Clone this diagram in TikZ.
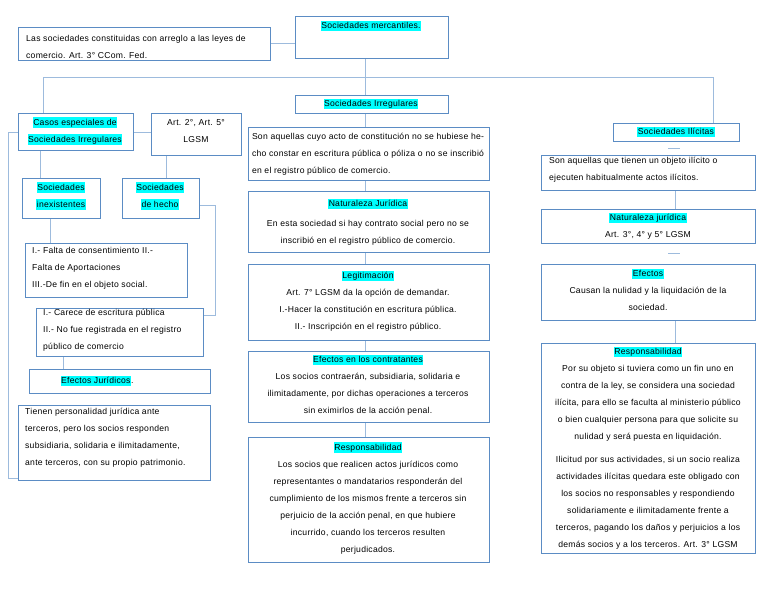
\documentclass[tikz,border=0pt]{standalone}
\usepackage{fontspec}
\setmainfont{Liberation Sans}[LetterSpace=3]
\usetikzlibrary{shadows}
\definecolor{bd}{HTML}{5B8CC4}
\definecolor{ln}{HTML}{9DBBDD}
\definecolor{hl}{HTML}{00FFFF}
\newcommand{\hil}[1]{{\setlength{\fboxsep}{0.6pt}\colorbox{hl}{\vphantom{Ág}#1}}}
\tikzset{
  bx/.style={draw=bd, line width=0.9pt, fill=white, drop shadow={shadow xshift=1.2pt,shadow yshift=-1.2pt,opacity=0.25}},
  tx/.style={font=\fontsize{8.6}{17}\selectfont, align=center, inner sep=0pt},
  lt/.style={font=\fontsize{8.6}{17}\selectfont, align=left, inner sep=0pt, anchor=north west},
  cn/.style={draw=ln, line width=1pt}
}
\begin{document}
\begin{tikzpicture}[x=1pt,y=-1pt]
\useasboundingbox (0,0) rectangle (768,594);
% connectors
\draw[cn] (270,44) -- (295,44);
\draw[cn] (365,58) -- (365,95);
\draw[cn] (43,113) |- (713,77) -- (713,123);
\draw[cn] (365,113) -- (365,127);
\draw[cn] (365,180) -- (365,191);
\draw[cn] (365,252) -- (365,264);
\draw[cn] (365,340) -- (365,351);
\draw[cn] (365,422) -- (365,437);
\draw[cn] (133,132) -- (151,132);
\draw[cn] (40,150) -- (40,178);
\draw[cn] (166,155) -- (166,178);
\draw[cn] (50,218) -- (50,243);
\draw[cn] (199,205) -- (215,205) -- (215,315) -- (203,315);
\draw[cn] (18,132) -- (8,132) -- (8,478) -- (18,478);
\draw[cn] (63,356) -- (63,369);
\draw[cn] (668,148) -- (680,148);
\draw[cn] (675,190) -- (675,209);
\draw[cn] (668,253) -- (680,253);
\draw[cn] (675,320) -- (675,343);
% boxes
\draw[bx] (18,27) rectangle (270,60);
\node[lt] (t1) at (26,35) {Las sociedades constituidas con arreglo a las leyes de\\comercio. Art. 3° CCom. Fed.};
\draw[bx] (295,16) rectangle (448,58);
\node[tx] (merc) at (371,26) {\hil{Sociedades mercantiles.}};
\draw[bx] (295,95) rectangle (448,113);
\node[tx] (irr) at (371,104) {\hil{Sociedades Irregulares}};
\draw[bx] (18,113) rectangle (133,150);
\node[tx] (casos) at (75,131) {\hil{Casos especiales de}\\\hil{Sociedades Irregulares}};
\draw[bx] (151,113) rectangle (241,155);
\node[tx] (art) at (196,131) {Art. 2°, Art. 5°\\LGSM};
\draw[bx] (248,127) rectangle (489,180);
\node[tx, align=justify, text width=232pt] (son) at (368,154) {Son aquellas cuyo acto de constitución no se hubiese hecho constar en escritura pública o póliza o no se inscribió en el registro público de comercio.};
\draw[bx] (248,191) rectangle (489,252);
\node[tx] (nat) at (368,222) {\hil{Naturaleza Jurídica}\\[3pt]En esta sociedad si hay contrato social pero no se\\inscribió en el registro público de comercio.};
\draw[bx] (248,264) rectangle (489,340);
\node[tx] (leg) at (368,301) {\hil{Legitimación}\\Art. 7° LGSM da la opción de demandar.\\I.-Hacer la constitución en escritura pública.\\II.- Inscripción en el registro público.};
\draw[bx] (248,351) rectangle (489,422);
\node[tx] (efc) at (368,385) {\hil{Efectos en los contratantes}\\Los socios contraerán, subsidiaria, solidaria e\\ilimitadamente, por dichas operaciones a terceros\\sin eximirlos de la acción penal.};
\draw[bx] (248,437) rectangle (489,562);
\node[tx] (resc) at (368,498) {\hil{Responsabilidad}\\Los socios que realicen actos jurídicos como\\representantes o mandatarios responderán del\\cumplimiento de los mismos frente a terceros sin\\perjuicio de la acción penal, en que hubiere\\incurrido, cuando los terceros resulten\\perjudicados.};
\draw[bx] (22,178) rectangle (100,218);
\node[tx] (inex) at (61,196) {\hil{Sociedades}\\\hil{inexistentes}};
\draw[bx] (122,178) rectangle (199,218);
\node[tx] (hecho) at (160,196) {\hil{Sociedades}\\\hil{de hecho}};
\draw[bx] (25,243) rectangle (187,297);
\node[lt] (falta) at (32,247) {I.- Falta de consentimiento II.-\\Falta de Aportaciones\\III.-De fin en el objeto social.};
\draw[bx] (36,308) rectangle (203,356);
\node[lt] (carece) at (43,309) {I.- Carece de escritura pública\\II.- No fue registrada en el registro\\público de comercio};
\draw[bx] (29,369) rectangle (210,393);
\node[tx] (efj) at (97,381) {\hil{Efectos Jurídicos}.};
\draw[bx] (18,405) rectangle (210,480);
\node[lt] (tienen) at (25,408) {Tienen personalidad jurídica ante\\terceros, pero los socios responden\\subsidiaria, solidaria e ilimitadamente,\\ante terceros, con su propio patrimonio.};
\draw[bx] (613,123) rectangle (739,141);
\node[tx] (ilic) at (676,132) {\hil{Sociedades Ilícitas}};
\draw[bx] (541,155) rectangle (755,190);
\node[lt] (soni) at (549,157) {Son aquellas que tienen un objeto ilícito o\\ejecuten habitualmente actos ilícitos.};
\draw[bx] (541,209) rectangle (755,243);
\node[tx] (nati) at (648,226) {\hil{Naturaleza jurídica}\\Art. 3°, 4° y 5° LGSM};
\draw[bx] (541,264) rectangle (755,320);
\node[tx] (efi) at (648,290) {\hil{Efectos}\\Causan la nulidad y la liquidación de la\\sociedad.};
\draw[bx] (541,343) rectangle (755,553);
\node[tx] (resi) at (648,448) {\hil{Responsabilidad}\\Por su objeto si tuviera como un fin uno en\\contra de la ley, se considera una sociedad\\ilícita, para ello se faculta al ministerio público\\o bien cualquier persona para que solicite su\\nulidad y será puesta en liquidación.\\[6pt]Ilicitud por sus actividades, si un socio realiza\\actividades ilícitas quedara este obligado con\\los socios no responsables y respondiendo\\solidariamente e ilimitadamente frente a\\terceros, pagando los daños y perjuicios a los\\demás socios y a los terceros. Art. 3° LGSM};
\end{tikzpicture}
\end{document}
